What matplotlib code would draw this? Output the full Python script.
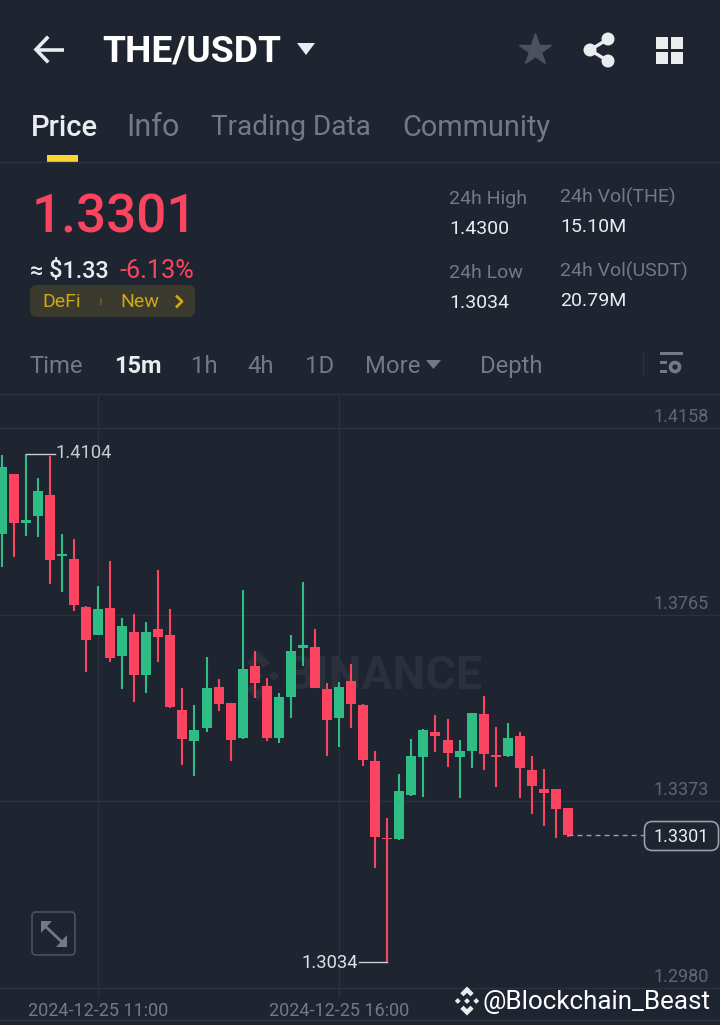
import matplotlib
matplotlib.use('Agg')
import matplotlib.pyplot as plt
from matplotlib.patches import FancyBboxPatch, Polygon, Circle, Rectangle

plt.rcParams['font.family'] = ['Roboto', 'Noto Sans', 'DejaVu Sans']

# candles, 15m
opens = [1.3934, 1.4061, 1.3959, 1.3972, 1.4017, 1.3888, 1.3883, 1.3781, 1.3723, 1.3780,
         1.3677, 1.3729, 1.3637, 1.3735, 1.3722, 1.3565, 1.3499, 1.3526, 1.3612, 1.3580,
         1.3506, 1.3657, 1.3615, 1.3505, 1.3592, 1.3695, 1.3697, 1.3608, 1.3547, 1.3625,
         1.3575, 1.3458, 1.3295, 1.3293, 1.3385, 1.3465, 1.3517, 1.3501, 1.3465, 1.3477,
         1.3556, 1.3470, 1.3467, 1.3510, 1.3439, 1.3399, 1.3397, 1.3357]
closes = [1.4075, 1.3958, 1.3964, 1.4026, 1.3880, 1.3892, 1.3785, 1.3712, 1.3777, 1.3674,
          1.3741, 1.3639, 1.3728, 1.3718, 1.3570, 1.3503, 1.3522, 1.3611, 1.3577, 1.3501,
          1.3651, 1.3621, 1.3505, 1.3591, 1.3689, 1.3701, 1.3610, 1.3543, 1.3612, 1.3578,
          1.3459, 1.3297, 1.3292, 1.3394, 1.3467, 1.3522, 1.3509, 1.3474, 1.3477, 1.3558,
          1.3471, 1.3465, 1.3505, 1.3442, 1.3404, 1.3390, 1.3356, 1.3301]
highs = [1.4101, 1.4061, 1.4104, 1.4052, 1.4099, 1.3935, 1.3924, 1.3784, 1.3825, 1.3879,
         1.3759, 1.3766, 1.3749, 1.3860, 1.3778, 1.3610, 1.3575, 1.3676, 1.3629, 1.3580,
         1.3816, 1.3689, 1.3632, 1.3600, 1.3722, 1.3834, 1.3734, 1.3622, 1.3623, 1.3661,
         1.3578, 1.3477, 1.3337, 1.3429, 1.3503, 1.3525, 1.3554, 1.3545, 1.3501, 1.3558,
         1.3593, 1.3529, 1.3537, 1.3519, 1.3467, 1.3441, 1.3397, 1.3357]
lows = [1.3865, 1.3887, 1.3931, 1.3929, 1.3830, 1.3812, 1.3773, 1.3644, 1.3723, 1.3665,
        1.3608, 1.3581, 1.3600, 1.3666, 1.3568, 1.3449, 1.3426, 1.3517, 1.3562, 1.3456,
        1.3504, 1.3590, 1.3499, 1.3495, 1.3548, 1.3658, 1.3610, 1.3467, 1.3487, 1.3526,
        1.3447, 1.3231, 1.3034, 1.3291, 1.3384, 1.3381, 1.3475, 1.3445, 1.3380, 1.3442,
        1.3437, 1.3403, 1.3465, 1.3379, 1.3345, 1.3321, 1.3294, 1.3296]
price_ticks = [1.4158, 1.3765, 1.3373, 1.2980]
time_ticks = [8, 28]
time_labels = ['2024-12-25 11:00', '2024-12-25 16:00']
last_price = 1.3301
max_idx, min_idx = 2, 32

BG = '#1f2530'
LINE = '#2c323d'
GREEN = '#2ebd85'
RED = '#fb4560'
WHITE = '#eaecef'
GRAY = '#717a88'
DIM = '#5f6773'

fig = plt.figure(figsize=(7.2, 10.25), dpi=100, facecolor=BG)

# chart area, 394..998 px down the picture
ax = fig.add_axes([0, 1 - 998 / 1025, 1, (998 - 394) / 1025], facecolor=BG, zorder=1)
ax.set_xlim(-0.141, 59.61)
ax.set_ylim(1.2958, 1.42296)
for s in ax.spines.values():
    s.set_visible(False)
ax.set_yticks(price_ticks)
ax.set_yticklabels([])
ax.set_xticks(time_ticks)
ax.set_xticklabels(time_labels, fontsize=13, color=GRAY)
ax.tick_params(length=0, pad=3)
ax.grid(True, color=LINE, lw=1)
ax.set_axisbelow(True)

# overlay in pixel coordinates for the app chrome
ui = fig.add_axes([0, 0, 1, 1], zorder=2)
ui.set_xlim(0, 720)
ui.set_ylim(1025, 0)
ui.axis('off')
ui.patch.set_alpha(0)


def logo(a, cx, cy, s, color, z=2):
    shapes = [
        [(0, -.2), (.2, 0), (0, .2), (-.2, 0)],
        [(.64, -.2), (.84, 0), (.64, .2), (.44, 0)],
        [(-.64, -.2), (-.44, 0), (-.64, .2), (-.84, 0)],
        [(0, -1), (.46, -.54), (.24, -.32), (0, -.56), (-.24, -.32), (-.46, -.54)],
        [(0, 1), (.46, .54), (.24, .32), (0, .56), (-.24, .32), (-.46, .54)],
    ]
    for sh in shapes:
        a.add_patch(Polygon([(cx + p[0] * s, cy + p[1] * s) for p in sh], closed=True,
                            fc=color, ec='none', zorder=z, transform=ui.transData))


# faint watermark sits under the candles
logo(ax, 258, 676, 25, '#2b313c', z=0.6)
ax.text(384, 676, 'BINANCE', transform=ui.transData, fontsize=33.5, fontweight='bold',
        color='#2b313c', ha='center', va='center', zorder=0.6)

# candles
width = 10 / 12.05
for i in range(len(opens)):
    c = GREEN if closes[i] >= opens[i] else RED
    ax.vlines(i, lows[i], highs[i], color=c, lw=1.5, zorder=3)
    bottom = min(opens[i], closes[i])
    h = abs(closes[i] - opens[i])
    ax.bar(i, h, width=width, bottom=bottom, color=c, zorder=4)

# max / min markers
ax.plot([max_idx, max_idx + 2.4], [highs[max_idx]] * 2, color='#c9ccd1', lw=1, zorder=5)
ax.annotate('%.4f' % highs[max_idx], (max_idx + 2.5, highs[max_idx]), xytext=(0, 0.5), textcoords='offset points',
            color='#c9ccd1', fontsize=13.2, va='center', ha='left', zorder=5)
ax.plot([min_idx, min_idx - 2.35], [lows[min_idx]] * 2, color='#c9ccd1', lw=1, zorder=5)
ax.annotate('%.4f' % lows[min_idx], (min_idx - 2.45, lows[min_idx]), xytext=(0, -1), textcoords='offset points',
            color='#dfe1e4', fontsize=13.2, va='center', ha='right', zorder=5)

# last price
ax.plot([len(opens) - 1, 53.3], [last_price] * 2, color='#9aa0a8', lw=1, ls=(0, (3.5, 3)), zorder=5)

# price labels on the right
for p, ypx in zip(price_ticks, [417, 604, 790, 977]):
    ui.text(709, ypx, '%.4f' % p, color=DIM, fontsize=13, ha='right', va='center')

ui.add_patch(FancyBboxPatch((644.5, 821.5), 74, 29, boxstyle='round,pad=0,rounding_size=8',
                            fc=BG, ec='#9aa0a8', lw=1.2))
ui.text(681.5, 837.5, '1.3301', color=WHITE, fontsize=13, ha='center', va='center')

# header
ui.plot([36, 64], [49.5, 49.5], color=WHITE, lw=2.6, solid_capstyle='butt')
ui.plot([47, 36, 47], [38, 49.5, 61], color=WHITE, lw=2.6, solid_joinstyle='miter')
ui.text(102, 52, 'THE/USDT', color='white', fontsize=26.8, fontweight='bold', ha='left', va='center')
ui.add_patch(Polygon([(297, 43), (315, 43), (306, 55)], fc=WHITE, ec='none'))
ui.plot([534.5], [50], marker='*', ms=24, color='#4c525d', mec='#4c525d')
for cx, cy in [(608, 39), (590, 50), (608, 61)]:
    ui.add_patch(Circle((cx, cy), 6.5, fc=WHITE, ec='none'))
ui.plot([608, 590, 608], [39, 50, 61], color=WHITE, lw=2.4)
for x0, y0 in [(656, 37), (671, 37), (656, 52), (671, 52)]:
    ui.add_patch(Rectangle((x0, y0), 12, 12, fc=WHITE, ec='none'))

# tabs
ui.text(31, 127.5, 'Price', color=WHITE, fontsize=21, fontweight='medium', ha='left', va='center')
ui.text(126, 127.5, 'Info', color=GRAY, fontsize=22, ha='left', va='center')
ui.text(211, 127.5, 'Trading Data', color=GRAY, fontsize=20.2, ha='left', va='center')
ui.text(402, 127.5, 'Community', color=GRAY, fontsize=20.8, ha='left', va='center')
ui.add_patch(Rectangle((47, 154.5), 31, 7, fc='#fcd535', ec='none'))
ui.plot([0, 720], [162, 162], color=LINE, lw=1)

# price block
ui.text(32, 218, '1.3301', color=RED, fontsize=38.2, fontweight='medium', ha='left', va='center')
ui.text(30, 271, '≈ $1.33', color=WHITE, fontsize=16.8, fontweight='medium', ha='left', va='center')
ui.text(119, 271, '-6.13%', color=RED, fontsize=18.2, ha='left', va='center')
ui.add_patch(FancyBboxPatch((30, 285), 165, 32, boxstyle='round,pad=0,rounding_size=7',
                            fc='#3a3a2e', ec='none'))
ui.text(42, 302, 'DeFi', color='#d0a814', fontsize=14, ha='left', va='center')
ui.text(120, 302, 'New', color='#d0a814', fontsize=14, ha='left', va='center')
ui.plot([100.5, 100.5], [299, 304], color='#6b6128', lw=1.2)
ui.plot([177, 182, 177], [296.5, 301.5, 306.5], color='#d0a814', lw=2)

# 24h stats
ui.text(449, 199.5, '24h High', color=GRAY, fontsize=14, ha='left', va='center')
ui.text(449, 228.5, '1.4300', color=WHITE, fontsize=14, ha='left', va='center')
ui.text(449, 273.5, '24h Low', color=GRAY, fontsize=14, ha='left', va='center')
ui.text(449, 302.5, '1.3034', color=WHITE, fontsize=14, ha='left', va='center')
ui.text(560, 197.5, '24h Vol(THE)', color=GRAY, fontsize=14, ha='left', va='center')
ui.text(560, 226.5, '15.10M', color=WHITE, fontsize=14, ha='left', va='center')
ui.text(560, 271.5, '24h Vol(USDT)', color=GRAY, fontsize=14, ha='left', va='center')
ui.text(560, 300.5, '20.79M', color=WHITE, fontsize=14, ha='left', va='center')

# interval row
for lab, x0 in [('Time', 29), ('1h', 191), ('4h', 247), ('1D', 305), ('More', 365), ('Depth', 480)]:
    ui.text(x0, 366.5, lab, color=GRAY, fontsize=17.2, ha='left', va='center')
ui.text(114, 366.5, '15m', color=WHITE, fontsize=17, fontweight='bold', ha='left', va='center')
ui.add_patch(Polygon([(426, 360), (441, 360), (433.5, 369)], fc=GRAY, ec='none'))
ui.plot([642.5, 642.5], [352, 375], color=LINE, lw=1)
ui.add_patch(Rectangle((660, 352), 23, 3, fc=GRAY, ec='none'))
ui.add_patch(Rectangle((660, 361), 7, 3, fc=GRAY, ec='none'))
ui.add_patch(Rectangle((660, 370), 7, 3, fc=GRAY, ec='none'))
ui.add_patch(Circle((675, 367), 4.5, fc=BG, ec=GRAY, lw=2.6))
ui.plot([0, 720], [394, 394], color=LINE, lw=1)

# expand button
ui.add_patch(FancyBboxPatch((32, 912), 43, 43, boxstyle='round,pad=0,rounding_size=4',
                            fc=BG, ec='#4c525d', lw=1.2))
ui.plot([44, 64], [925, 944], color=GRAY, lw=2)
ui.add_patch(Polygon([(41, 921), (52, 921), (41, 933)], fc=GRAY, ec='none'))
ui.add_patch(Polygon([(67, 947), (56, 947), (67, 935)], fc=GRAY, ec='none'))

# bottom rule and credit
ui.plot([0, 720], [1020, 1020], color=LINE, lw=1)
logo(ui, 467, 1001, 14.5, WHITE)
ui.text(483, 1002, '@Blockchain_Beast', color='white', fontsize=18.75, ha='left', va='center')

fig.savefig('out.png', dpi=100, facecolor=BG)
